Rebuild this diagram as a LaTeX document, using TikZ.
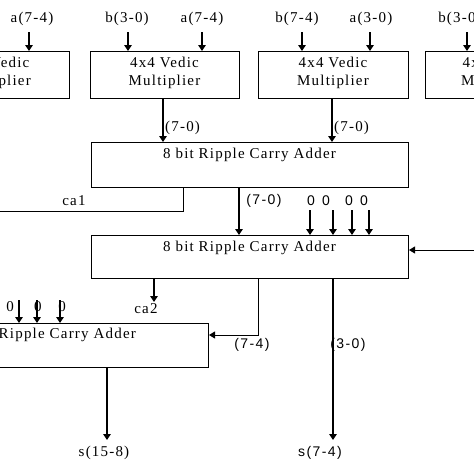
\documentclass[tikz,border=0pt]{standalone}
\usepackage{fontspec}
\setmainfont{Liberation Serif}
\newfontfamily\serf[LetterSpace=8]{Liberation Serif}
\newfontfamily\sanf[LetterSpace=10]{Liberation Sans}
\usetikzlibrary{arrows.meta}
\begin{document}
\begin{tikzpicture}[x=1pt,y=-1pt,
  box/.style={draw, line width=1pt, inner sep=0pt, anchor=north west},
  txt/.style={font=\fontsize{15}{18}\selectfont\serf, inner sep=0pt, align=center},
  stxt/.style={font=\fontsize{14}{16}\selectfont\sanf, inner sep=0pt},
  thk/.style={line width=2.5pt, -{Triangle[width=7.5pt,length=6pt]}},
  thn/.style={line width=1pt, -{Triangle[width=7pt,length=6pt]}},
  wire/.style={line width=1pt}]
\useasboundingbox (0,0) rectangle (474,474);
\clip (0,0) rectangle (474,474);
\fill[white] (0,0) rectangle (474,474);

% multiplier boxes
\node[box, minimum width=149pt, minimum height=47pt] (m1) at (-80,51) {};
\node[box, minimum width=149pt, minimum height=47pt] (m2) at (90,51) {};
\node[box, minimum width=150pt, minimum height=47pt] (m3) at (258,51) {};
\node[box, minimum width=150pt, minimum height=47pt] (m4) at (425,51) {};
\node[txt] (m1t) at (-5,73) {4x4 Vedic\\Multiplier};
\node[txt] (m2t) at (164.5,73) {4x4 Vedic\\Multiplier};
\node[txt] (m3t) at (333,73) {4x4 Vedic\\Multiplier};
\node[txt] (m4t) at (497,73) {4x4 Vedic\\Multiplier};

% top input labels
\node[txt] (l1a) at (32,19) {a(7-4)};
\node[txt] (l2b) at (127,19) {b(3-0)};
\node[txt] (l2a) at (202,19) {a(7-4)};
\node[txt] (l3b) at (297,19) {b(7-4)};
\node[txt] (l3a) at (371,19) {a(3-0)};
\node[txt] (l4b) at (460,19) {b(3-0)};
\coordinate (i1a) at (29,32);
\coordinate (i2b) at (128,32);
\coordinate (i2a) at (202,32);
\coordinate (i3b) at (302,32);
\coordinate (i3a) at (370,32);
\coordinate (i4b) at (467,32);
\foreach \c in {i1a,i2b,i2a,i3b,i3a,i4b}
  \draw[thk] (\c) -- (\c |- m2.north);

% adders
\node[box, minimum width=317pt, minimum height=45pt] (a1) at (91,142) {};
\node[box, minimum width=317pt, minimum height=43pt] (a2) at (91,235) {};
\node[box, minimum width=317pt, minimum height=44pt] (a3) at (-109,323) {};
\node[txt] (a1t) at (249.5,155) {8 bit Ripple Carry Adder};
\node[txt] (a2t) at (249.5,248) {8 bit Ripple Carry Adder};
\node[txt] (a3t) at (49.5,335) {8 bit Ripple Carry Adder};

% multiplier outputs
\coordinate (o2) at (163,98);
\coordinate (o3) at (332,98);
\draw[thk] (o2) -- (o2 |- a1.north);
\draw[thk] (o3) -- (o3 |- a1.north);
\node[txt, anchor=west] (o2l) at (165,128) {(7-0)};
\node[txt, anchor=west] (o3l) at (334,128) {(7-0)};

% ca1
\coordinate (c1a) at (183,187);
\coordinate (c1b) at (183,211);
\coordinate (c1c) at (0,211);
\draw[wire] (c1a) -- (c1b) -- (c1c);
\node[txt] (ca1) at (74,201) {ca1};

% adder1 -> adder2
\coordinate (s1) at (239,187);
\draw[thk] (s1) -- (s1 |- a2.north);
\node[stxt] (s1l) at (264,201) {(7-0)};

% zeros into adder2
\node[stxt] (z1) at (311,201) {0};
\node[stxt] (z2) at (326,201) {0};
\node[stxt] (z3) at (349,201) {0};
\node[stxt] (z4) at (364,201) {0};
\coordinate (zz1) at (310,210);
\coordinate (zz2) at (333,210);
\coordinate (zz3) at (352,210);
\coordinate (zz4) at (369,210);
\foreach \c in {zz1,zz2,zz3,zz4}
  \draw[thk] (\c) -- (\c |- a2.north);

% right input into adder2
\coordinate (r2) at (474,250);
\draw[thn] (r2) -- (r2 -| a2.east);

% ca2
\coordinate (c2) at (154,278);
\coordinate (c2e) at (154,302);
\draw[thk] (c2) -- (c2e);
\node[txt] (ca2) at (146,309) {ca2};

% (7-4) into adder3
\coordinate (h1) at (258,278);
\coordinate (h2) at (258,335);
\draw[thn] (h1) -- (h2) -- (h2 -| a3.east);
\node[stxt] (h1l) at (252,345) {(7-4)};

% (3-0) to s(7-4)
\coordinate (q1) at (333,278);
\coordinate (q2) at (333,440);
\draw[thk] (q1) -- (q2);
\node[stxt] (q1l) at (348,345) {(3-0)};
\node[stxt] (s74) at (320,453) {s(7-4)};

% zeros into adder3
\node[txt] (y1) at (10,307) {0};
\node[txt] (y2) at (38,307) {0};
\node[txt] (y3) at (62,307) {0};
\coordinate (yy1) at (19,300);
\coordinate (yy2) at (37,300);
\coordinate (yy3) at (60,300);
\foreach \c in {yy1,yy2,yy3}
  \draw[thk] (\c) -- (\c |- a3.north);

% adder3 output
\coordinate (p1) at (107,367);
\coordinate (p2) at (107,440);
\draw[thk] (p1) -- (p2);
\node[txt] (s158) at (104,453) {s(15-8)};
\end{tikzpicture}
\end{document}
